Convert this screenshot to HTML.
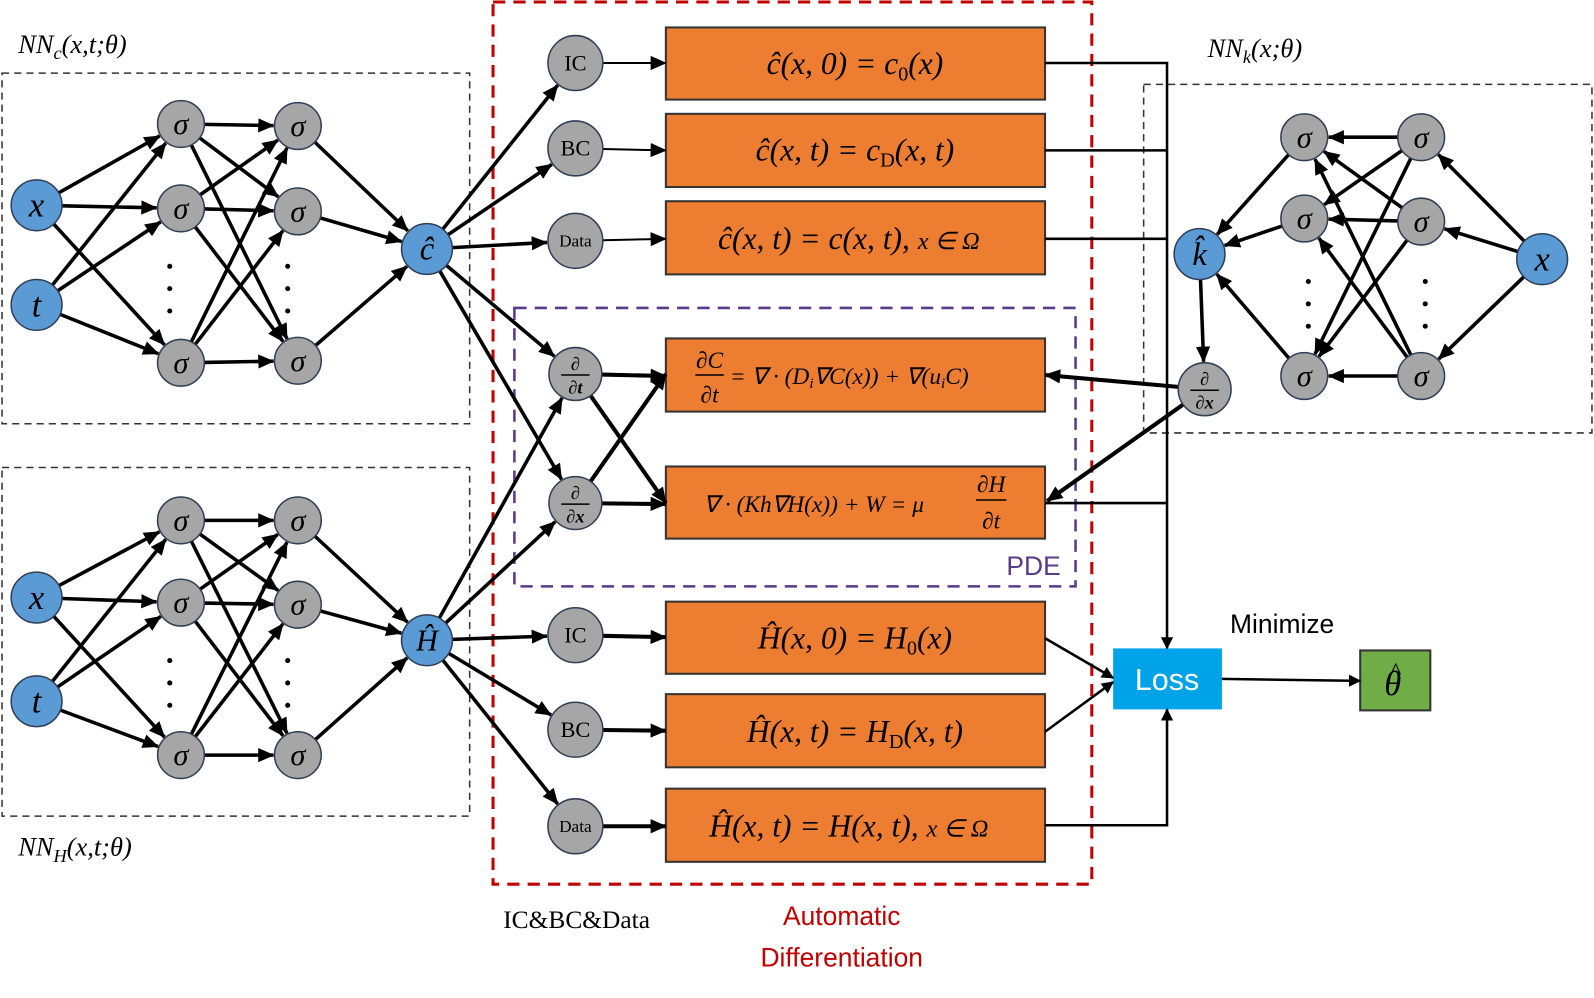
<!DOCTYPE html>
<html><head><meta charset="utf-8"><style>
html,body{margin:0;padding:0;background:#fff;}
svg{display:block;}
text{font-family:"Liberation Serif",serif;}
.m{font-family:"Liberation Serif",serif;font-style:italic;}
.s{font-family:"Liberation Sans",sans-serif;}
</style></head><body>
<svg id="g" width="1594" height="998" viewBox="0 0 1568 982" preserveAspectRatio="none" xmlns="http://www.w3.org/2000/svg">
<defs>
<marker id="a" markerUnits="userSpaceOnUse" markerWidth="16" markerHeight="14" refX="15" refY="7" orient="auto"><path d="M0,0 L16,7 L0,14 Z" fill="#000"/></marker>
<marker id="b" markerUnits="userSpaceOnUse" markerWidth="12" markerHeight="12" refX="11" refY="6" orient="auto"><path d="M0,0 L12,6 L0,12 Z" fill="#000"/></marker>
</defs>
<rect width="1568" height="982" fill="#fff"/>
<rect x="2" y="72" width="460" height="345" fill="none" stroke="#333" stroke-width="1.5" stroke-dasharray="7,5"/>
<rect x="2" y="460" width="460" height="343" fill="none" stroke="#333" stroke-width="1.5" stroke-dasharray="7,5"/>
<rect x="1125" y="83" width="441" height="343" fill="none" stroke="#333" stroke-width="1.5" stroke-dasharray="7,5"/>
<rect x="485" y="2" width="589" height="868" fill="none" stroke="#c00000" stroke-width="3" stroke-dasharray="12,8"/>
<rect x="506" y="303" width="552" height="274" fill="none" stroke="#5a3a8a" stroke-width="2.5" stroke-dasharray="12,8"/>
<text x="990" y="566" class="s" font-size="26" fill="#5a3a8a">PDE</text>
<text x="18" y="52" class="m" font-size="26">NN<tspan font-size="18" dy="6">c</tspan><tspan dy="-6">(x,t;θ)</tspan></text>
<text x="18" y="842" class="m" font-size="26">NN<tspan font-size="18" dy="6">H</tspan><tspan dy="-6">(x,t;θ)</tspan></text>
<text x="1188" y="56" class="m" font-size="26">NN<tspan font-size="18" dy="6">k</tspan><tspan dy="-6">(x;θ)</tspan></text>
<text x="495" y="913" font-size="25">IC&amp;BC&amp;Data</text>
<text x="828" y="910" class="s" font-size="26" fill="#c00000" text-anchor="middle">Automatic</text>
<text x="828" y="951" class="s" font-size="26" fill="#c00000" text-anchor="middle">Differentiation</text>
<text x="1210" y="623" class="s" font-size="26">Minimize</text>
<g fill="#ed7d31" stroke="#333" stroke-width="2">
<rect x="655" y="27" width="373" height="71"/>
<rect x="655" y="112" width="373" height="72"/>
<rect x="655" y="198" width="373" height="72"/>
<rect x="655" y="333" width="373" height="72"/>
<rect x="655" y="459" width="373" height="71"/>
<rect x="655" y="592" width="373" height="71"/>
<rect x="655" y="683" width="373" height="72"/>
<rect x="655" y="776" width="373" height="72"/>
</g>
<g font-size="31" text-anchor="middle" class="m">
<text x="841" y="73">ĉ(x, 0) = c<tspan font-size="20" dy="6" font-style="normal">0</tspan><tspan dy="-6">(x)</tspan></text>
<text x="841" y="158">ĉ(x, t) = c<tspan font-size="20" dy="6" font-style="normal">D</tspan><tspan dy="-6">(x, t)</tspan></text>
<text x="835" y="245">ĉ(x, t) = c(x, t), <tspan font-size="24">x ∈ Ω</tspan></text>
<text x="841" y="638">Ĥ(x, 0) = H<tspan font-size="20" dy="6" font-style="normal">0</tspan><tspan dy="-6">(x)</tspan></text>
<text x="841" y="730">Ĥ(x, t) = H<tspan font-size="20" dy="6" font-style="normal">D</tspan><tspan dy="-6">(x, t)</tspan></text>
<text x="835" y="823">Ĥ(x, t) = H(x, t), <tspan font-size="24">x ∈ Ω</tspan></text>
</g>
<g font-size="23" class="m">
<text x="698" y="362" text-anchor="middle">∂C</text>
<line x1="684" y1="369" x2="712" y2="369" stroke="#000" stroke-width="1.5"/>
<text x="698" y="396" text-anchor="middle">∂t</text>
<text x="718" y="378">= ∇ · (D<tspan font-size="15" dy="4">i</tspan><tspan dy="-4">∇C(x)) + ∇(u</tspan><tspan font-size="15" dy="4">i</tspan><tspan dy="-4">C)</tspan></text>
<text x="692" y="504">∇ · (Kh∇H(x)) + W = μ</text>
<text x="975" y="484" text-anchor="middle">∂H</text>
<line x1="960" y1="492" x2="990" y2="492" stroke="#000" stroke-width="1.5"/>
<text x="975" y="520" text-anchor="middle">∂t</text>
</g>
<rect x="1095" y="638" width="107" height="60" fill="#00a2e8"/>
<text x="1148" y="679" class="s" font-size="30" fill="#fff" text-anchor="middle">Loss</text>
<rect x="1338" y="640" width="69" height="59" fill="#70ad47" stroke="#333" stroke-width="2"/>
<text x="1370" y="684" class="m" font-size="34" text-anchor="middle">θ</text>
<text x="1373" y="668" font-size="24" text-anchor="middle">^</text>
<g id="lines"></g>
<g id="nodes"></g>
</svg>
<script>
var NS="http://www.w3.org/2000/svg";
var L=document.getElementById('lines'),N=document.getElementById('nodes');
var nodes={};
function node(id,x,y,r,fill,label,fs,font){nodes[id]={x:x,y:y,r:r};
 var c=document.createElementNS(NS,'circle');c.setAttribute('cx',x);c.setAttribute('cy',y);c.setAttribute('r',r);c.setAttribute('fill',fill);c.setAttribute('stroke','#2f3f55');c.setAttribute('stroke-width','1.5');N.appendChild(c);
 if(label){var t=document.createElementNS(NS,'text');t.setAttribute('x',x);t.setAttribute('y',y+fs*0.33);t.setAttribute('text-anchor','middle');t.setAttribute('font-size',fs);
 if(font=='s'){t.setAttribute('class','s');}else if(font=='u'){}else{t.setAttribute('class','m');}
 t.textContent=label;N.appendChild(t);}}
function frac(id,x,y,den){node(id,x,y,26,'#a6a6a6');
 var t1=document.createElementNS(NS,'text');t1.setAttribute('x',x);t1.setAttribute('y',y-4);t1.setAttribute('text-anchor','middle');t1.setAttribute('font-size','18');t1.setAttribute('class','m');t1.setAttribute('font-weight','bold');t1.textContent='∂';N.appendChild(t1);
 var l=document.createElementNS(NS,'line');l.setAttribute('x1',x-14);l.setAttribute('x2',x+14);l.setAttribute('y1',y+1);l.setAttribute('y2',y+1);l.setAttribute('stroke','#000');l.setAttribute('stroke-width','1.5');N.appendChild(l);
 var t2=document.createElementNS(NS,'text');t2.setAttribute('x',x);t2.setAttribute('y',y+19);t2.setAttribute('text-anchor','middle');t2.setAttribute('font-size','18');t2.setAttribute('class','m');t2.setAttribute('font-weight','bold');t2.textContent='∂'+den;N.appendChild(t2);}
function line(x1,y1,x2,y2,w,mk){var l=document.createElementNS(NS,'line');l.setAttribute('x1',x1);l.setAttribute('y1',y1);l.setAttribute('x2',x2);l.setAttribute('y2',y2);l.setAttribute('stroke','#000');l.setAttribute('stroke-width',w||3.5);if(mk!==0)l.setAttribute('marker-end','url(#'+(mk||'a')+')');L.appendChild(l);}
function poly(pts,w,mk){var p=document.createElementNS(NS,'polyline');p.setAttribute('points',pts);p.setAttribute('fill','none');p.setAttribute('stroke','#000');p.setAttribute('stroke-width',w);if(mk)p.setAttribute('marker-end','url(#'+mk+')');L.appendChild(p);}
function conn(a,b,w){var A=nodes[a],B=nodes[b];var dx=B.x-A.x,dy=B.y-A.y,d=Math.sqrt(dx*dx+dy*dy);
 line(A.x+dx/d*A.r,A.y+dy/d*A.r,B.x-dx/d*(B.r+1),B.y-dy/d*(B.r+1),w);}
function toPt(a,x,y,w){var A=nodes[a];var dx=x-A.x,dy=y-A.y,d=Math.sqrt(dx*dx+dy*dy);line(A.x+dx/d*A.r,A.y+dy/d*A.r,x,y,w);}
var blue='#5b9bd5',gray='#a6a6a6';
node('cx',36,202,25,blue,'x',34);node('ct',36,300,25,blue,'t',34);
node('c1a',178,122,23,gray,'σ',30);node('c1b',178,205,23,gray,'σ',30);node('c1c',178,357,23,gray,'σ',30);
node('c2a',293,124,23,gray,'σ',30);node('c2b',293,208,23,gray,'σ',30);node('c2c',293,355,23,gray,'σ',30);
node('ch',420,245,25,blue,'ĉ',32);
node('hx',36,588,25,blue,'x',34);node('ht',36,690,25,blue,'t',34);
node('h1a',178,512,23,gray,'σ',30);node('h1b',178,593,23,gray,'σ',30);node('h1c',178,743,23,gray,'σ',30);
node('h2a',293,512,23,gray,'σ',30);node('h2b',293,595,23,gray,'σ',30);node('h2c',293,743,23,gray,'σ',30);
node('hh',420,630,25,blue,'Ĥ',30);
node('kk',1180,250,25,blue,'k̂',32);node('kx',1517,255,25,blue,'x',34);
node('k1a',1283,135,23,gray,'σ',30);node('k1b',1283,215,23,gray,'σ',30);node('k1c',1283,370,23,gray,'σ',30);
node('k2a',1398,135,23,gray,'σ',30);node('k2b',1398,218,23,gray,'σ',30);node('k2c',1398,370,23,gray,'σ',30);
frac('kdx',1185,383,'x');
node('ic1',566,62,27,gray,'IC',22,'u');node('bc1',566,146,27,gray,'BC',22,'u');node('d1',566,237,27,gray,'Data',17,'u');
frac('dt',566,368,'t');frac('dx',566,495,'x');
node('ic2',566,625,27,gray,'IC',22,'u');node('bc2',566,718,27,gray,'BC',22,'u');node('d2',566,813,27,gray,'Data',17,'u');
function dots(x,y0){for(var i=0;i<3;i++){var c=document.createElementNS(NS,'circle');c.setAttribute('cx',x);c.setAttribute('cy',y0+i*22);c.setAttribute('r',2.5);c.setAttribute('fill','#000');N.appendChild(c);}}
dots(167,262);dots(283,262);dots(167,650);dots(283,650);dots(1287,277);dots(1402,277);
['c1a','c1b','c1c'].forEach(function(h){conn('cx',h);conn('ct',h);['c2a','c2b','c2c'].forEach(function(o){conn(h,o);});});
['c2a','c2b','c2c'].forEach(function(o){conn(o,'ch');});
['h1a','h1b','h1c'].forEach(function(h){conn('hx',h);conn('ht',h);['h2a','h2b','h2c'].forEach(function(o){conn(h,o);});});
['h2a','h2b','h2c'].forEach(function(o){conn(o,'hh');});
['k2a','k2b','k2c'].forEach(function(h){conn('kx',h);['k1a','k1b','k1c'].forEach(function(o){conn(h,o);});});
['k1a','k1b','k1c'].forEach(function(o){conn(o,'kk');});
conn('kk','kdx');
['ic1','bc1','d1','dt','dx'].forEach(function(o){conn('ch',o);});
['dt','dx','ic2','bc2','d2'].forEach(function(o){conn('hh',o);});
toPt('ic1',655,62,2);toPt('bc1',655,148,2);toPt('d1',655,235,2);
toPt('dt',655,370,4);toPt('dt',655,495,4);toPt('dx',655,368,4);toPt('dx',655,496,4);
toPt('ic2',655,627,4);toPt('bc2',655,719,4);toPt('d2',655,813,4);
poly('1028,62 1148,62 1148,638',2.5,'b');
line(1028,148,1148,148,2.5,0);line(1028,235,1148,235,2.5,0);line(1028,495,1148,495,2.5,0);
toPt('kdx',1028,369,4);toPt('kdx',1030,493,4);
line(1028,628,1095,667,2.5,'b');line(1028,720,1095,671,2.5,'b');
poly('1028,812 1148,812 1148,698',2.5,'b');
line(1202,668,1338,670,2.5,'b');
</script>
</body></html>
